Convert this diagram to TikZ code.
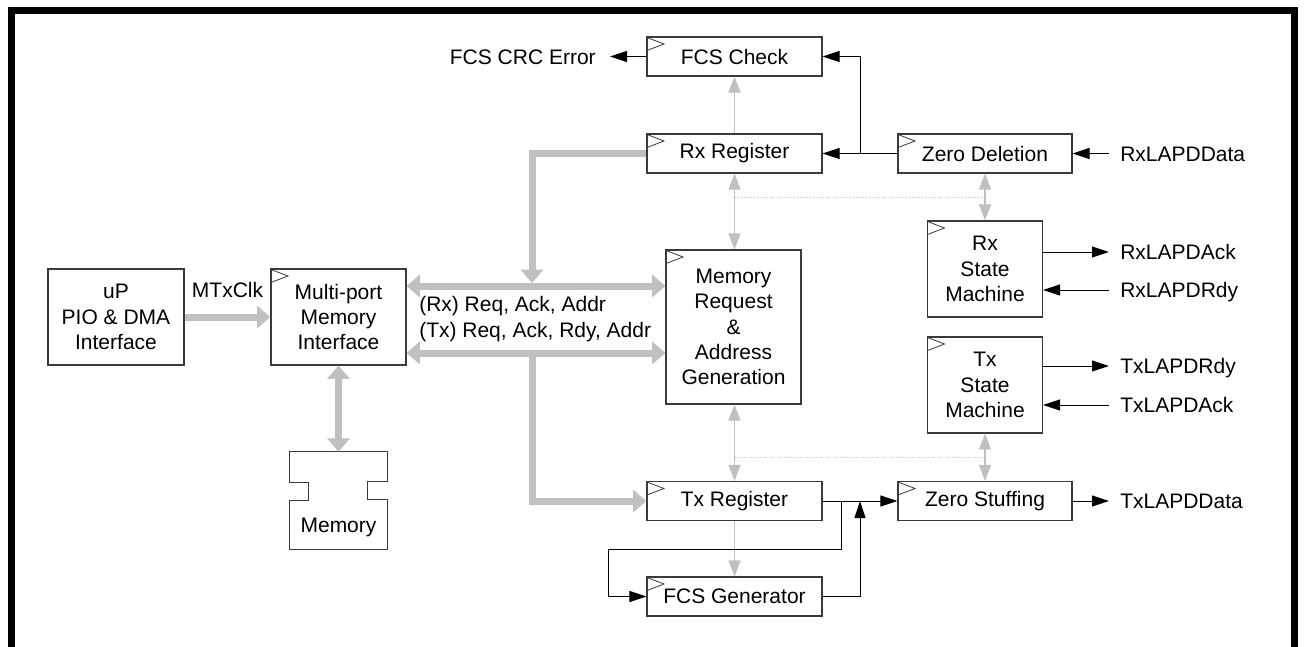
\documentclass[tikz,border=0pt]{standalone}
\usepackage{fontspec}
\setmainfont{Liberation Sans}
\usetikzlibrary{arrows.meta}
\definecolor{lg}{HTML}{C0C0C0}
\definecolor{dg}{HTML}{CCCCCC}
\definecolor{bd}{HTML}{3A3A3A}
\begin{document}
\begin{tikzpicture}[x=0.75pt,y=-0.75pt,
  every node/.style={font=\fontsize{15.75}{19}\selectfont},
  blk/.style={draw=bd, line width=0.8pt, inner sep=0pt, align=center, fill=white},
  clk/.style={path picture={\draw[bd, line width=0.6pt] (path picture bounding box.north west) ++(0,0.5) -- ++(17,6.5) -- ++(-17,6.5);}},
  regbox/.style={blk, clk, minimum width=131.25pt, minimum height=29.25pt},
  smbox/.style={blk, clk, minimum width=86.25pt, minimum height=72pt},
  lbl/.style={inner ysep=0pt, text height=11.3pt, text depth=0pt},
  blkarrow/.style={line width=0.75pt, -{Triangle[length=12.75pt,width=8.25pt]}},
  gth/.style={draw=lg, line width=5.25pt},
  gtharrow/.style={gth, -{Triangle[length=10pt,width=16.5pt]}},
  gthboth/.style={gth, {Triangle[length=10pt,width=16.5pt]}-{Triangle[length=10pt,width=16.5pt]}},
  gthin/.style={draw=lg, line width=0.9pt, -{Triangle[length=12pt,width=9pt]}},
  gthinboth/.style={draw=lg, line width=0.9pt, {Triangle[length=12pt,width=9pt]}-{Triangle[length=12pt,width=9pt]}},
  dotline/.style={draw=dg, line width=0.75pt, densely dotted}]
\useasboundingbox (0,0) rectangle (1306,646);
% frame
\draw[line width=5.25pt] (11,10.5) rectangle (1294,720);

% blocks
\node[blk, minimum width=102pt, minimum height=72pt] (up) at (116,317) {uP\\PIO \& DMA\\Interface};
\node[blk, clk, minimum width=101.25pt, minimum height=72pt] (mpi) at (338.5,317) {Multi-port\\Memory\\Interface};
\node[inner sep=0pt, minimum width=72.75pt, minimum height=72.75pt] (mem) at (338.5,500.5) {};
\draw[bd, line width=0.8pt] (mem.north west) -- (mem.north east) -- ++(0,30) -- ++(-20,0) -- ++(0,18) -- ++(20,0) -- (mem.south east) -- (mem.south west) -- ++(0,-49) -- ++(19,0) -- ++(0,-18) -- ++(-19,0) -- cycle;
\node (memlbl) at (338.5,527) {Memory};

\node[regbox] (fcsc) at (734.5,56.5) {FCS Check};
\node[regbox] (rxr) at (734.5,153.5) {Rx Register};
\node[regbox, minimum width=130.5pt] (zd) at (985,153.5) {Zero Deletion};
\node[blk, clk, minimum width=101.25pt, minimum height=115.5pt] (mrg) at (733.5,327) {Memory\\Request\\\&\\Address\\Generation};
\node[smbox] (rxsm) at (985,269) {Rx\\State\\Machine};
\node[smbox] (txsm) at (985,385) {Tx\\State\\Machine};
\node[regbox] (txr) at (734.5,501) {Tx Register};
\node[regbox, minimum width=130.5pt] (zs) at (985,501) {Zero Stuffing};
\node[regbox] (fcsg) at (734.5,596.5) {FCS Generator};

% labels
\node[lbl, anchor=east, inner xsep=10.5pt] (crc) at (610,56.5) {FCS CRC Error};
\node[lbl, anchor=west, inner xsep=8.25pt] (rxdata) at (1109,153.5) {RxLAPDData};
\node[lbl, anchor=west, inner xsep=8.25pt] (rxack) at (1109,252) {RxLAPDAck};
\node[lbl, anchor=west, inner xsep=8.25pt] (rxrdy) at (1109,290) {RxLAPDRdy};
\node[lbl, anchor=west, inner xsep=8.25pt] (txrdy) at (1109,366) {TxLAPDRdy};
\node[lbl, anchor=west, inner xsep=8.25pt] (txack) at (1109,405) {TxLAPDAck};
\node[lbl, anchor=west, inner xsep=8.25pt] (txdata) at (1109,501) {TxLAPDData};
\node[lbl, inner xsep=0pt] (clkl) at (227.5,290) {MTxClk};
\node[lbl, anchor=west, inner xsep=0pt] (rxbus) at (419,304) {(Rx) Req, Ack, Addr};
\node[lbl, anchor=west, inner xsep=0pt] (txbus) at (419,330) {(Tx) Req, Ack, Rdy, Addr};

% thick gray buses
\coordinate (yRx) at (0,286);
\coordinate (yTx) at (0,353);
\coordinate (rxdrop) at (532,283);
\coordinate (txsplit) at (532,353);
\draw[gtharrow] (up.east) -- (mpi.west);
\draw[gthboth] (mpi.south) -- (mem.north);
\draw[gthboth] (mpi.east |- yRx) -- (mrg.west |- yRx);
\draw[gthboth] (mpi.east |- yTx) -- (mrg.west |- yTx);
\draw[gtharrow] (rxr.west) -| (rxdrop);
\draw[gtharrow] (txsplit) |- (txr.west);

% thin gray
\coordinate (yDot1) at (0,197);
\coordinate (yDot2) at (0,457);
\draw[gthin] (rxr.north) -- (fcsc.south);
\draw[gthinboth] (rxr.south) -- (rxr.south |- mrg.north);
\draw[gthinboth] (zd.south) -- (rxsm.north);
\draw[dotline] (rxr.south |- yDot1) -- (zd.south |- yDot1);
\draw[gthinboth] (txr.north |- mrg.south) -- (txr.north);
\draw[gthinboth] (txsm.south) -- (zs.north);
\draw[dotline] (txr.north |- yDot2) -- (zs.north |- yDot2);
\draw[gthin] (txr.south) -- (fcsg.north);

% black signals
\coordinate (brZ) at (860,153.5);
\coordinate (brA) at (841,501);
\coordinate (lpA) at (608,549);
\coordinate (brB) at (860,501);
\draw[blkarrow] (zd.west) -- (rxr.east);
\draw[blkarrow] (brZ) |- (fcsc.east);
\draw[blkarrow] (fcsc.west) -- (crc.east);
\draw[blkarrow] (rxdata.west) -- (zd.east);
\draw[blkarrow] (rxsm.east |- rxack) -- (rxack.west);
\draw[blkarrow] (rxrdy.west) -- (rxsm.east |- rxrdy);
\draw[blkarrow] (txsm.east |- txrdy) -- (txrdy.west);
\draw[blkarrow] (txack.west) -- (txsm.east |- txack);
\draw[blkarrow] (txr.east) -- (zs.west);
\draw[blkarrow] (zs.east) -- (txdata.west);
\draw[blkarrow] (brA) |- (lpA) |- (fcsg.west);
\draw[blkarrow] (fcsg.east) -| (brB);
\end{tikzpicture}
\end{document}
